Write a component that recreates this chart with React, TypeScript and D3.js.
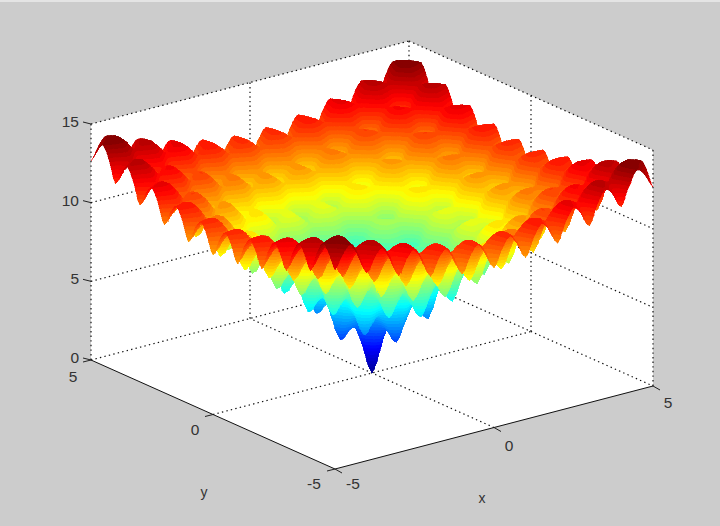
import React, { useEffect, useRef } from "react";
import * as d3 from "d3";

// Hand-estimated heights (not computed at runtime) on a 0.25 grid, for one octant of the
// symmetric surface: heightRows[a][b - a] is the height at |x| = a/4, |y| = b/4 (a <= b).
const heightRows: number[][] = [
  [0,1.76,3.09,3.08,2.64,4.31,5.54,5.46,4.93,6.52,7.68,7.51,6.92,8.44,9.53,9.30,8.64,10.10,11.14,10.85,10.14],
  [2.69,3.63,3.83,3.78,5.02,5.98,6.15,6.03,7.20,8.09,8.19,8.01,9.11,9.93,9.96,9.72,10.76,11.54,11.51,11.22],
  [4.25,4.50,4.64,5.57,6.36,6.65,6.78,7.67,8.40,8.64,8.71,9.55,10.22,10.40,10.41,11.19,11.81,11.93,11.89],
  [4.50,4.31,5.44,6.33,6.44,6.28,7.42,8.28,8.35,8.15,9.24,10.05,10.07,9.82,10.85,11.62,11.59,11.29],
  [3.62,5.12,6.22,6.03,5.42,6.95,8.05,7.85,7.21,8.70,9.77,9.52,8.83,10.28,11.30,11.00,10.27],
  [6.15,6.93,6.96,6.74,7.82,8.64,8.67,8.44,9.50,10.29,10.28,10.01,11.03,11.78,11.73,11.42],
  [7.53,7.67,7.68,8.46,9.11,9.27,9.27,10.05,10.68,10.81,10.79,11.54,12.12,12.22,12.16],
  [7.63,7.33,8.35,9.12,9.11,8.83,9.85,10.61,10.58,10.28,11.28,12.00,11.94,11.62],
  [6.59,8.00,9.00,8.70,7.99,9.41,10.41,10.10,9.37,10.78,11.75,11.42,10.66],
  [8.97,9.68,9.62,9.30,10.28,11.00,10.94,10.62,11.59,12.29,12.21,11.86],
  [10.22,10.29,10.21,10.91,11.46,11.54,11.46,12.15,12.69,12.75,12.65],
  [10.18,9.82,10.76,11.45,11.36,11.00,11.94,12.62,12.52,12.15],
  [9.02,10.37,11.30,10.93,10.14,11.49,12.41,12.03,11.23],
  [11.28,11.93,11.81,11.42,12.33,12.99,12.86,12.47],
  [12.42,12.43,12.29,12.93,13.42,13.43,13.28],
  [12.27,11.86,12.75,13.38,13.22,12.81],
  [11.01,12.31,13.18,12.76,11.91],
  [13.17,13.78,13.60,13.16],
  [14.22,14.18,13.99],
  [13.98,13.53],
  [12.64],
];

const xTicks = [-5, 0, 5];
const yTicks = [-5, 0, 5];
const zTicks = [0, 5, 10, 15];
const colorStops = [0, 0.125, 0.375, 0.625, 0.875, 1];
const jetColors = ["#000090", "#0000ff", "#00ffff", "#ffff00", "#ff0000", "#800000"];
const colorLevels = 64;
const colorTop = 14.22;
const SUB = 3;

const fx = d3.scaleLinear().domain([-5, 5]).range([-159, 159]);
const fyX = d3.scaleLinear().domain([-5, 5]).range([122, -122]);
const gx = d3.scaleLinear().domain([-5, 5]).range([41.5, -41.5]);
const gy = d3.scaleLinear().domain([-5, 5]).range([54.5, -54.5]);
const zS = d3.scaleLinear().domain([0, 15]).range([0, -236]);
const project = (x: number, y: number, z: number): [number, number] => [
  372 + fx(x) + fyX(y),
  373 + gx(x) + gy(y) + zS(z),
];

const jet = d3.scaleLinear<string>().domain(colorStops.map((s) => s * colorTop)).range(jetColors).clamp(true);
const levelColor = (lvl: number) => jet(((lvl + 0.5) / colorLevels) * colorTop);
const bandH = colorTop / colorLevels;

const N = 40;
const gridX = d3.range(N + 1).map((i) => -5 + i * 0.25);
const sample = (i: number, j: number) => {
  const a = Math.abs(Math.max(0, Math.min(N, i)) - N / 2);
  const b = Math.abs(Math.max(0, Math.min(N, j)) - N / 2);
  const lo = Math.min(a, b);
  const hi = Math.max(a, b);
  return heightRows[lo][hi - lo];
};
const cr = (p0: number, p1: number, p2: number, p3: number, t: number) =>
  0.5 * (2 * p1 + (p2 - p0) * t + (2 * p0 - 5 * p1 + 4 * p2 - p3) * t * t + (3 * p1 - p0 - 3 * p2 + p3) * t * t * t);
const smooth = (u: number, v: number) => {
  const i = Math.min(N - 1, Math.floor(u));
  const j = Math.min(N - 1, Math.floor(v));
  const s = u - i;
  const t = v - j;
  const col = [-1, 0, 1, 2].map((d) =>
    cr(sample(i + d, j - 1), sample(i + d, j), sample(i + d, j + 1), sample(i + d, j + 2), t)
  );
  return cr(col[0], col[1], col[2], col[3], s);
};

type V = [number, number, number]; // screen x, screen y, height
const clip = (poly: V[], limit: number, keepAbove: boolean): V[] => {
  const out: V[] = [];
  const inside = (v: V) => (keepAbove ? v[2] >= limit : v[2] <= limit);
  poly.forEach((a, k) => {
    const b = poly[(k + 1) % poly.length];
    if (inside(a)) out.push(a);
    if (inside(a) !== inside(b)) {
      const t = (limit - a[2]) / (b[2] - a[2]);
      out.push([a[0] + (b[0] - a[0]) * t, a[1] + (b[1] - a[1]) * t, limit]);
    }
  });
  return out;
};

type Seg = [number, number, number, number, number, number];
const dotted: Seg[] = [
  [-5, 5, 15, 5, 5, 15],
  [5, 5, 15, 5, -5, 15],
  [-5, 5, 0, -5, 5, 15],
  [5, 5, 0, 5, 5, 15],
  [5, -5, 0, 5, -5, 15],
  [-5, 5, 0, 5, 5, 0],
  [5, 5, 0, 5, -5, 0],
  [0, 5, 0, 0, 5, 15],
  [5, 0, 0, 5, 0, 15],
  [0, -5, 0, 0, 5, 0],
  [-5, 0, 0, 5, 0, 0],
  [-5, 5, 5, 5, 5, 5],
  [5, 5, 5, 5, -5, 5],
  [-5, 5, 10, 5, 5, 10],
  [5, 5, 10, 5, -5, 10],
];

export default function App() {
  const ref = useRef<SVGGElement>(null);
  useEffect(() => {
    const pieces: { d: string; c: string }[] = [];
    const M = N * SUB;
    const heights = d3.range(M + 1).map((a) => d3.range(M + 1).map((b) => smooth(a / SUB, b / SUB)));
    const coord = d3.scaleLinear().domain([0, M]).range([gridX[0], gridX[N]]);
    const pt = (a: number, b: number): V => {
      const p = project(coord(a), coord(b), heights[a][b]);
      return [p[0], p[1], heights[a][b]];
    };
    for (let a = M - 1; a >= 0; a--) {
      for (let b = M - 1; b >= 0; b--) {
        const v = [pt(a, b), pt(a + 1, b), pt(a + 1, b + 1), pt(a, b + 1)];
        const byLevel = new Map<number, string>();
        [[v[0], v[1], v[2]], [v[0], v[2], v[3]]].forEach((tri) => {
          const zs = tri.map((q) => q[2]);
          const l0 = Math.floor(Math.min(...zs) / bandH);
          const l1 = Math.floor(Math.max(...zs) / bandH);
          for (let l = l0; l <= l1; l++) {
            const part = clip(clip(tri, l * bandH, true), (l + 1) * bandH, false);
            if (part.length < 3) continue;
            const lvl = Math.max(0, Math.min(colorLevels - 1, l));
            const d = "M" + part.map((q) => q[0].toFixed(1) + "," + q[1].toFixed(1)).join("L") + "Z";
            byLevel.set(lvl, (byLevel.get(lvl) || "") + d);
          }
        });
        // low-to-high within a cell keeps the slight stroke overlap consistent
        Array.from(byLevel.keys())
          .sort((p, q) => p - q)
          .forEach((lvl) => pieces.push({ d: byLevel.get(lvl) as string, c: levelColor(lvl) }));
      }
    }
    d3.select(ref.current)
      .selectAll("path")
      .data(pieces)
      .join("path")
      .attr("d", (q) => q.d)
      .attr("fill", (q) => q.c)
      .attr("stroke", (q) => q.c)
      .attr("stroke-width", 0.4);
  }, []);

  const corners = [
    project(-5, 5, 15),
    project(5, 5, 15),
    project(5, -5, 15),
    project(5, -5, 0),
    project(-5, -5, 0),
    project(-5, 5, 0),
  ];
  const textStyle = { fontFamily: "'Liberation Sans', Arial, sans-serif", fontSize: 15.5, fill: "#333" };
  const xOff: Record<number, [number, number]> = { [-5]: [18, 20], 0: [15, 23], 5: [15, 22] };
  const yOff: Record<number, [number, number]> = { [-5]: [-21, 20], 0: [-18, 20], 5: [-18, 22] };
  return (
    <svg width={720} height={526} style={{ position: "absolute", left: 0, top: 0, display: "block" }}>
      <rect width={720} height={526} fill="#cccccc" />
      <rect width={720} height={2} fill="#e4e4e4" />
      <polygon points={corners.map((c) => c.join(",")).join(" ")} fill="#ffffff" />
      {dotted.map((s, i) => {
        const a = project(s[0], s[1], s[2]);
        const b = project(s[3], s[4], s[5]);
        return (
          <line key={i} x1={a[0]} y1={a[1]} x2={b[0]} y2={b[1]} stroke="#111" strokeWidth={1.2} strokeDasharray="1.4 3.2" />
        );
      })}
      <g ref={ref} shapeRendering="crispEdges" />
      {[[project(-5, -5, 0), project(5, -5, 0)], [project(-5, -5, 0), project(-5, 5, 0)]].map((l, i) => (
        <line key={i} x1={l[0][0]} y1={l[0][1]} x2={l[1][0]} y2={l[1][1]} stroke="#111" strokeWidth={1} />
      ))}
      {xTicks.map((t) => {
        const p = project(t, -5, 0);
        return (
          <g key={"x" + t}>
            <line x1={p[0]} y1={p[1]} x2={p[0] + 7} y2={p[1] + 4} stroke="#222" />
            <text x={p[0] + xOff[t][0]} y={p[1] + xOff[t][1]} textAnchor="middle" style={textStyle}>{t}</text>
          </g>
        );
      })}
      {yTicks.map((t) => {
        const p = project(-5, t, 0);
        return (
          <g key={"y" + t}>
            <line x1={p[0]} y1={p[1]} x2={p[0] - 8} y2={p[1] + 2} stroke="#222" />
            <text x={p[0] + yOff[t][0]} y={p[1] + yOff[t][1]} textAnchor="middle" style={textStyle}>{t}</text>
          </g>
        );
      })}
      {zTicks.map((t) => {
        const p = project(-5, 5, t);
        return (
          <g key={"z" + t}>
            <line x1={p[0]} y1={p[1]} x2={p[0] - 8} y2={p[1] - 2} stroke="#222" />
            <text x={p[0] - 12} y={p[1] + 3} textAnchor="end" style={textStyle}>{t}</text>
          </g>
        );
      })}
      <text x={204} y={497} textAnchor="middle" style={{ ...textStyle, fontSize: 14 }}>y</text>
      <text x={482} y={503} textAnchor="middle" style={{ ...textStyle, fontSize: 14 }}>x</text>
    </svg>
  );
}
